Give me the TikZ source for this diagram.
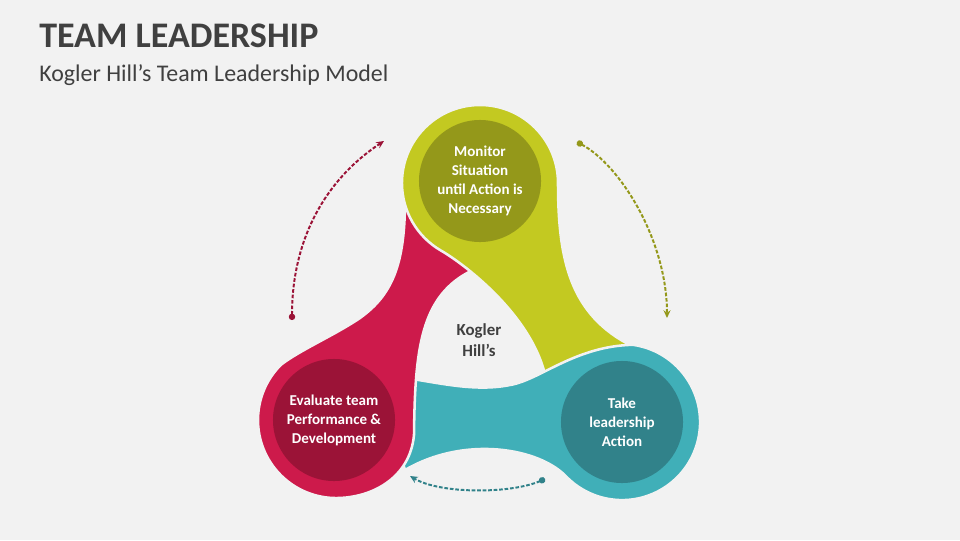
\documentclass[tikz,border=0pt]{standalone}
\usepackage{fontspec}
\setmainfont{Carlito}
\usetikzlibrary{arrows.meta}
\definecolor{bg}{HTML}{F2F2F2}
\definecolor{ygreen}{HTML}{C3C921}
\definecolor{ydark}{HTML}{94981A}
\definecolor{rose}{HTML}{CD1A4B}
\definecolor{rdark}{HTML}{9B1337}
\definecolor{tealA}{HTML}{40AFB8}
\definecolor{tdark}{HTML}{31828A}
\definecolor{txt}{HTML}{404040}
% outline of the top blob, used twice
\newcommand{\ypath}{(558,-183) arc[start angle=0, end angle=240, radius=1.95cm]
  .. controls (466,-265) and (538,-320) .. (547,-385) -- (640,-352) -- (632,-346)
  .. controls (570,-315) and (558,-260) .. (558,-183) -- cycle}
\begin{document}
\begin{tikzpicture}[x=0.025cm,y=0.025cm,
  blob/.style={draw=bg,line width=1.8pt,line join=round},
  inner/.style={circle,minimum size=3.05cm,inner sep=0pt,text=white,align=center,
    font=\bfseries\fontsize{10.7}{13.5}\selectfont},
  loop arrow/.style={line width=1.4pt,dash pattern=on 2.6pt off 1.3pt,
    arrows={Circle[length=4.5pt]-Stealth[length=5.5pt,width=5pt]}}]
  \fill[bg] (0,0) rectangle (960,-540);

  % blobs
  \filldraw[blob,fill=ygreen] \ypath;
  \filldraw[blob,fill=tealA] (632.9,-344.8) arc[start angle=82, end angle=-135, radius=1.95cm]
    .. controls (540,-448) and (465,-435) .. (405,-470) -- (395,-440) -- (400,-377)
    .. controls (440,-383) and (475,-392) .. (510,-385)
    .. controls (540,-380) and (575,-346) .. (632.9,-344.8) -- cycle;
  \filldraw[blob,fill=rose] (280.85,-364.85) arc[start angle=135, end angle=270, radius=1.95cm]
    .. controls (372,-498) and (410,-478) .. (414,-435)
    .. controls (415,-350) and (420,-295) .. (473,-270) -- (484,-262) -- (412,-190) -- (405,-200)
    .. controls (405,-265) and (392,-295) .. (360,-318)
    .. controls (335,-335) and (300,-350) .. (280.85,-364.85) -- cycle;
  \begin{scope}
    \clip (390,-175) rectangle (520,-300);
    \filldraw[blob,fill=ygreen] \ypath;
  \end{scope}

  \node[inner,fill=ydark] (monitor) at (480,-181) {Monitor\\Situation\\until Action is\\Necessary};
  \node[inner,fill=tdark] (action) at (622,-422) {Take\\leadership\\Action};
  \node[inner,fill=rdark] (evaluate) at (334,-420) {Evaluate team\\Performance \&\\Development};
  \node[text=txt,align=center,font=\bfseries\fontsize{12}{15}\selectfont] (kogler) at (479,-340) {Kogler\\Hill’s};

  % dashed arrows
  \coordinate (r1) at (292,-320);
  \coordinate (r2) at (384,-141);
  \coordinate (y1) at (577,-142);
  \coordinate (y2) at (667,-318);
  \coordinate (t1) at (545,-479);
  \coordinate (t2) at (410,-476);
  \draw[loop arrow,rdark] (r1) .. controls (292,-240) and (325,-180) .. (r2);
  \draw[loop arrow,ydark] (y1) .. controls (620,-165) and (667,-240) .. (y2);
  \draw[loop arrow,tdark] (t1) .. controls (510,-494) and (440,-494) .. (t2);

  \node[anchor=base west,inner sep=0pt,text=txt,font=\bfseries\fontsize{25.6}{30}\selectfont] (title) at (39,-47) {TEAM LEADERSHIP};
  \node[anchor=base west,inner sep=0pt,text=txt,font=\fontsize{17}{20}\selectfont] (subtitle) at (39,-81.5) {Kogler Hill’s Team Leadership Model};
\end{tikzpicture}
\end{document}
